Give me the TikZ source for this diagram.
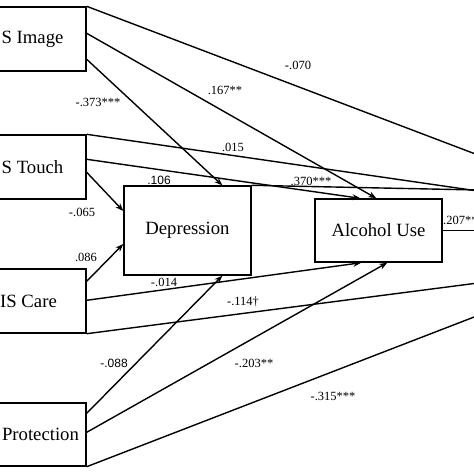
\documentclass[tikz,border=0pt]{standalone}
\usepackage{fontspec}
\setmainfont{Liberation Serif}
\newfontfamily\sansf{Liberation Sans}
\usetikzlibrary{arrows.meta,calc}
\begin{document}
\begin{tikzpicture}[x=1pt,y=-1pt,
  box/.style={draw, line width=1.4pt, font=\fontsize{18.7}{20}\selectfont, inner sep=0pt},
  lnk/.style={line width=1.4pt},
  arr/.style={lnk, -{Stealth[length=8pt,width=6pt]}},
  lab/.style={font=\fontsize{12.5}{14}\selectfont, inner sep=0pt},
  slab/.style={font=\sansf\fontsize{12}{14}\selectfont, inner sep=0pt}]
\useasboundingbox (0,0) rectangle (474,474);
\clip (0,0) rectangle (474,474);
% boxes
\node[box, minimum width=107pt, minimum height=64pt] (img) at (32.5,39) {S Image};
\node[box, minimum width=107pt, minimum height=64pt] (tch) at (32.5,167) {S Touch};
\node[box, minimum width=115pt, minimum height=64pt] (care) at (28.5,301) {IS Care};
\node[box, minimum width=91pt, minimum height=63pt] (prot) at (40.5,434.5) {Protection};
\node[box, minimum width=127pt, minimum height=89pt] (dep) at (187.5,230.5) {Depression};
\node[box, minimum width=127pt, minimum height=63pt] (alc) at (378.5,230.5) {Alcohol Use};
% off-picture ends
\coordinate (R1) at (478,155);
\coordinate (R2) at (478,191);
\coordinate (R3) at (478,190);
\coordinate (R4) at (478,283);
\coordinate (R5) at (478,315.5);
\coordinate (R6) at (478,230.5);
% connectors
\draw[lnk] (img.north east) -- (R1);
\draw[arr] ($(img.north east)+(0,27)$) -- ($(alc.north west)+(62,0)$);
\draw[arr] ($(img.north east)+(0,53)$) -- ($(dep.north west)+(99,0)$);
\draw[lnk] (tch.north east) -- (R2);
\draw[arr] ($(tch.north east)+(0,25)$) -- ($(alc.north west)+(46,0)$);
\draw[arr] ($(tch.north east)+(0,38)$) -- ($(dep.west)+(0,-19.5)$);
\draw[arr] ($(care.north east)+(0,13)$) -- ($(dep.west)+(0,13.5)$);
\draw[arr] ($(care.north east)+(0,32)$) -- ($(alc.south west)+(47,0)$);
\draw[lnk] (care.south east) -- (R4);
\draw[arr] ($(prot.north east)+(0,11)$) -- ($(dep.south west)+(99,0)$);
\draw[arr] ($(prot.north east)+(0,30)$) -- ($(alc.south west)+(73,0)$);
\draw[lnk] (prot.south east) -- (R5);
\draw[lnk] (dep.north east) -- (R3);
\draw[lnk] (alc.east) -- (R6);
% labels
\node[lab] (l1) at (298,65) {-.070};
\node[lab] (l2) at (225,90) {.167**};
\node[lab] (l3) at (98,102) {-.373***};
\node[lab] (l4) at (233,147) {.015};
\node[lab] (l5) at (311,181) {.370***};
\node[slab] (l6) at (159,180) {.106};
\node[lab] (l7) at (82,212) {-.065};
\node[lab] (l8) at (86,257) {.086};
\node[lab] (l9) at (164,282) {-.014};
\node[lab] (l10) at (243,302) {-.114†};
\node[slab] (l11) at (114,363) {-.088};
\node[lab] (l12) at (254,363) {-.203**};
\node[lab] (l13) at (333,396) {-.315***};
\node[lab, anchor=west] (l14) at (443,220) {.207**};
\end{tikzpicture}
\end{document}
